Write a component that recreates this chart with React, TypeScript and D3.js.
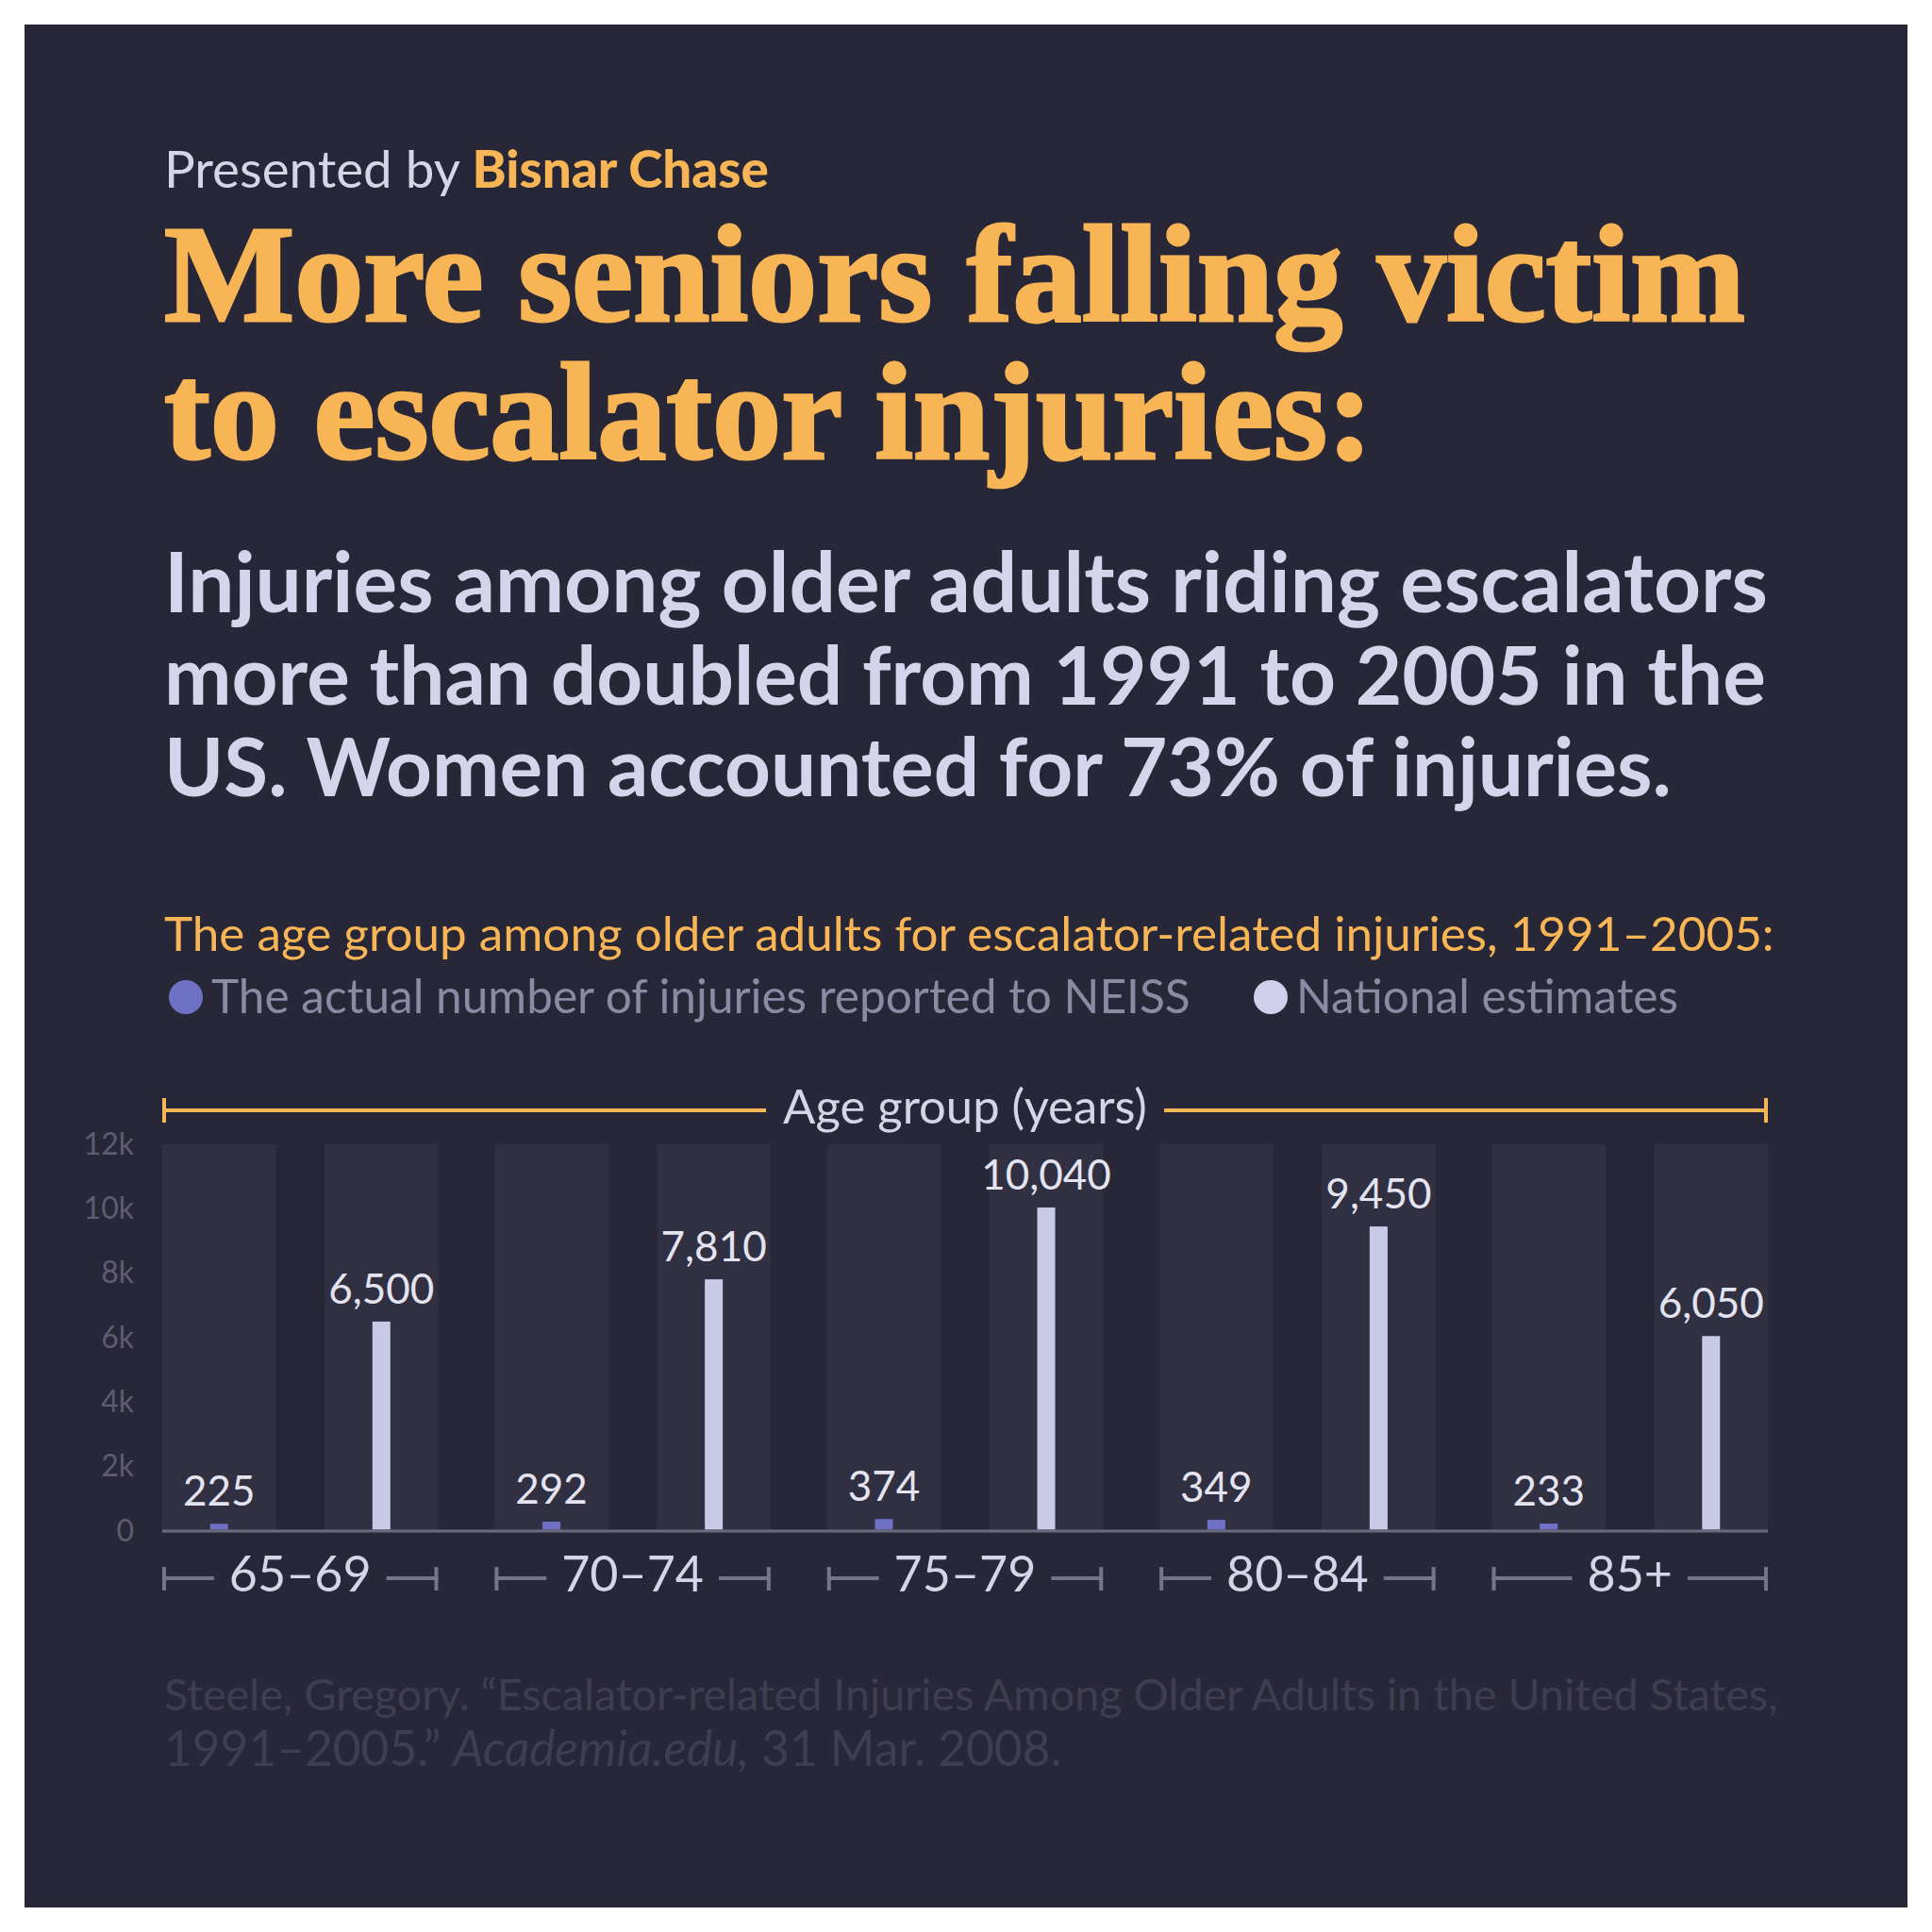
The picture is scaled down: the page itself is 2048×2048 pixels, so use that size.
import React, { useRef, useEffect } from 'react';
import * as d3 from 'd3';

const ageGroups = ['65–69', '70–74', '75–79', '80–84', '85+'];
const seriesKeys = ['neiss', 'national'];
const neissCounts = [225, 292, 374, 349, 233];
const nationalEstimates = [6500, 7810, 10040, 9450, 6050];
const yTicks = [0, 2000, 4000, 6000, 8000, 10000, 12000];
const legendLabels = ['The actual number of injuries reported to NEISS', 'National estimates'];

const W = 2048;
const H = 2048;
const BG = '#282737';
const ORANGE = '#f7b556';
const LAVENDER = '#d5d4ea';
const SANS = 'Lato, "Open Sans", sans-serif';

// scale a text node's font-size so it spans the given width
function fitWidth(sel: d3.Selection<SVGTextElement, unknown, null, undefined>, width: number) {
  const node = sel.node();
  if (!node) return 0;
  const len = node.getComputedTextLength();
  const size = parseFloat(sel.attr('font-size'));
  const newSize = (size * width) / len;
  sel.attr('font-size', newSize);
  return newSize;
}

const App: React.FC = () => {
  const svgRef = useRef<SVGSVGElement>(null);

  useEffect(() => {
    if (!svgRef.current) return;
    document.body.style.margin = '0';
    const svg = d3.select(svgRef.current);
    svg.selectAll('*').remove();

    svg.append('rect').attr('width', W).attr('height', H).attr('fill', '#ffffff');
    svg.append('rect').attr('x', 26).attr('y', 26).attr('width', 1996).attr('height', 1996).attr('fill', BG);

    const left = 174;

    // header
    const presented = svg
      .append('text')
      .attr('x', left)
      .attr('y', 199)
      .attr('font-family', SANS)
      .attr('font-size', 48);
    presented.append('tspan').attr('fill', LAVENDER).attr('font-weight', 400).text('Presented by ');
    presented.append('tspan').attr('fill', ORANGE).attr('font-weight', 900).text('Bisnar Chase');
    fitWidth(presented, 641);

    const titleLines = ['More seniors falling victim', 'to escalator injuries:'];
    const titleBase = [340, 486];
    let titleSize = 120;
    titleLines.forEach((line, i) => {
      const t = svg
        .append('text')
        .attr('x', left)
        .attr('y', titleBase[i])
        .attr('font-family', '"Liberation Serif", serif')
        .attr('font-weight', 700)
        .attr('font-size', titleSize)
        .attr('fill', ORANGE)
        .attr('stroke', ORANGE)
        .attr('stroke-width', 3)
        .text(line);
      if (i === 0) titleSize = fitWidth(t, 1676);
    });

    const subLines = [
      'Injuries among older adults riding escalators',
      'more than doubled from 1991 to 2005 in the',
      'US. Women accounted for 73% of injuries.',
    ];
    const subBase = [649, 747, 844];
    const subWidths = [1700, 1698, 1598];
    subLines.forEach((line, i) => {
      const t = svg
        .append('text')
        .attr('x', left)
        .attr('y', subBase[i])
        .attr('font-family', SANS)
        .attr('font-weight', 700)
        .attr('font-size', 80)
        .attr('fill', LAVENDER)
        .text(line);
      fitWidth(t, subWidths[i]);
    });

    const heading = svg
      .append('text')
      .attr('x', left)
      .attr('y', 1008)
      .attr('font-family', SANS)
      .attr('font-size', 48)
      .attr('fill', ORANGE)
      .text('The age group among older adults for escalator-related injuries, 1991–2005:');
    fitWidth(heading, 1707);

    // legend
    const legendColors = ['#6f72c4', '#d0d0ec'];
    const legendX = [197, 1347];
    const legendWidths = [1038, 405];
    legendLabels.forEach((lab, i) => {
      svg.append('circle').attr('cx', legendX[i]).attr('cy', 1057).attr('r', 18).attr('fill', legendColors[i]);
      const t = svg
        .append('text')
        .attr('x', legendX[i] + 27)
        .attr('y', 1074)
        .attr('font-family', SANS)
        .attr('font-size', 48)
        .attr('fill', '#8b8aa3')
        .text(lab);
      fitWidth(t, legendWidths[i]);
    });

    // scales
    const x0 = d3.scaleBand<string>().domain(ageGroups).range([172, 1874]).paddingInner(0.17);
    const x1 = d3.scaleBand<string>().domain(seriesKeys).range([0, x0.bandwidth()]).paddingInner(0.3);
    const y = d3.scaleLinear().domain([0, 12000]).range([1623, 1213]);
    const barW = 19;

    // age group bracket
    const [rx0, rx1] = x0.range();
    const ageMid = (rx0 + rx1) / 2;
    const ageLabel = svg
      .append('text')
      .attr('x', ageMid)
      .attr('y', 1191)
      .attr('text-anchor', 'middle')
      .attr('font-family', SANS)
      .attr('font-size', 50)
      .attr('fill', LAVENDER)
      .text('Age group (years)');
    fitWidth(ageLabel, 386);
    const ageHalf = 386 / 2 + 18;
    const ageBr = svg.append('g').attr('stroke', ORANGE).attr('stroke-width', 4).attr('fill', 'none');
    ageBr.append('line').attr('x1', rx0).attr('x2', ageMid - ageHalf).attr('y1', 1177).attr('y2', 1177);
    ageBr.append('line').attr('x1', ageMid + ageHalf).attr('x2', rx1).attr('y1', 1177).attr('y2', 1177);
    ageBr.append('line').attr('x1', rx0 + 2).attr('x2', rx0 + 2).attr('y1', 1164).attr('y2', 1190);
    ageBr.append('line').attr('x1', rx1 - 2).attr('x2', rx1 - 2).attr('y1', 1164).attr('y2', 1190);

    const rows = ageGroups.map((g, i) => ({
      group: g,
      values: [
        { key: 'neiss', value: neissCounts[i] },
        { key: 'national', value: nationalEstimates[i] },
      ],
    }));

    // y axis
    const yAxis = svg
      .append('g')
      .attr('transform', `translate(${rx0},0)`)
      .call(
        d3
          .axisLeft(y)
          .tickValues(yTicks)
          .tickSize(0)
          .tickPadding(30)
          .tickFormat((d) => (+d === 0 ? '0' : `${+d / 1000}k`))
      );
    yAxis.select('.domain').remove();
    yAxis.selectAll('text').attr('fill', '#5d5c70').attr('font-family', SANS).attr('font-size', 32);

    const groups = svg
      .selectAll('.grp')
      .data(rows)
      .enter()
      .append('g')
      .attr('class', 'grp')
      .attr('transform', (d) => `translate(${x0(d.group)},0)`);

    // column backgrounds
    groups
      .selectAll('.col')
      .data((d) => d.values)
      .enter()
      .append('rect')
      .attr('class', 'col')
      .attr('x', (d) => x1(d.key) || 0)
      .attr('y', y(12000))
      .attr('width', x1.bandwidth())
      .attr('height', y(0) - y(12000))
      .attr('fill', '#313042');

    // baseline
    svg
      .append('line')
      .attr('x1', rx0)
      .attr('x2', rx1)
      .attr('y1', y(0))
      .attr('y2', y(0))
      .attr('stroke', '#6b6b80')
      .attr('stroke-width', 3);

    const colorFor = (k: string) => (k === 'neiss' ? '#6f72c4' : '#c9cae8');

    groups
      .selectAll('.bar')
      .data((d) => d.values)
      .enter()
      .append('rect')
      .attr('class', 'bar')
      .attr('x', (d) => (x1(d.key) || 0) + x1.bandwidth() / 2 - barW / 2)
      .attr('y', (d) => y(d.value))
      .attr('width', barW)
      .attr('height', (d) => y(0) - y(d.value) - 1.5)
      .attr('fill', (d) => colorFor(d.key));

    groups
      .selectAll('.val')
      .data((d) => d.values)
      .enter()
      .append('text')
      .attr('class', 'val')
      .attr('x', (d) => (x1(d.key) || 0) + x1.bandwidth() / 2)
      .attr('y', (d) => y(d.value) - 19)
      .attr('text-anchor', 'middle')
      .attr('font-family', SANS)
      .attr('font-size', 44)
      .attr('fill', '#e4e3f0')
      .text((d) => d3.format(',')(d.value));

    // group labels with brackets
    const bw = x0.bandwidth();
    groups.each(function (d) {
      const g = d3.select(this);
      const lab = g
        .append('text')
        .attr('x', bw / 2)
        .attr('y', 1687)
        .attr('text-anchor', 'middle')
        .attr('font-family', SANS)
        .attr('font-size', 52)
        .attr('fill', LAVENDER)
        .text(d.group);
      const half = (lab.node() as SVGTextElement).getComputedTextLength() / 2 + 16;
      const br = g.append('g').attr('stroke', '#75758a').attr('stroke-width', 4);
      br.append('line').attr('x1', 0).attr('x2', bw / 2 - half).attr('y1', 1673).attr('y2', 1673);
      br.append('line').attr('x1', bw / 2 + half).attr('x2', bw).attr('y1', 1673).attr('y2', 1673);
      br.append('line').attr('x1', 2).attr('x2', 2).attr('y1', 1661).attr('y2', 1686);
      br.append('line').attr('x1', bw - 2).attr('x2', bw - 2).attr('y1', 1661).attr('y2', 1686);
    });

    // citation
    const foot1 = svg
      .append('text')
      .attr('x', left)
      .attr('y', 1813)
      .attr('font-family', SANS)
      .attr('font-size', 46)
      .attr('fill', '#3e3d51')
      .text('Steele, Gregory. “Escalator-related Injuries Among Older Adults in the United States,');
    fitWidth(foot1, 1711);
    const foot2 = svg
      .append('text')
      .attr('x', left)
      .attr('y', 1872)
      .attr('font-family', SANS)
      .attr('font-size', 46)
      .attr('fill', '#3e3d51');
    foot2.append('tspan').text('1991–2005.” ');
    foot2.append('tspan').attr('font-style', 'italic').text('Academia.edu,');
    foot2.append('tspan').text(' 31 Mar. 2008.');
    fitWidth(foot2, 952);
  }, []);

  return <svg ref={svgRef} width={W} height={H} style={{ display: 'block' }} />;
};

export default App;
